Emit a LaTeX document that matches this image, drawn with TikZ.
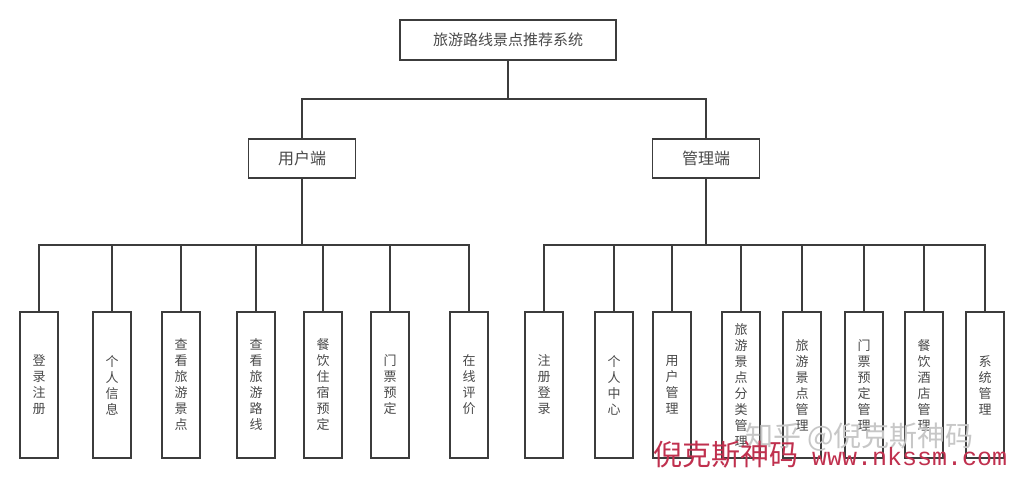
\documentclass[tikz,border=0pt]{standalone}
\usepackage{fontspec}
\newfontfamily\cjk{Noto Sans CJK SC}
\newfontfamily\wmono{Liberation Mono}
\definecolor{ln}{HTML}{3C3C3C}
\definecolor{tx}{HTML}{4A4A4A}
\definecolor{wm}{HTML}{C0304E}
\begin{document}
\begin{tikzpicture}[x=1pt,y=-1pt,
 box/.style={draw=ln,line width=1.4pt,fill=white,inner sep=0pt,text=tx,font=\cjk\fontsize{15}{18}\selectfont},
 midbox/.style={box,minimum width=107pt,minimum height=39pt,font=\cjk\fontsize{16}{18}\selectfont},
 leaf/.style={box,minimum width=38pt,minimum height=146pt,align=center,font=\cjk\fontsize{13}{16}\selectfont},
 wire/.style={draw=ln,line width=1.4pt}]
\useasboundingbox[fill=white] (0,0) rectangle (1024,479);
\node[box,minimum width=216pt,minimum height=40pt] (top) at (508,40) {旅游路线景点推荐系统};
\node[midbox] (user) at (302,158.5) {用户端};
\node[midbox] (admin) at (706,158.5) {管理端};
\coordinate (j1) at (508,99);
\draw[wire] (top.south) -- (j1) -| (user.north);
\draw[wire] (j1) -| (admin.north);
% user leaves
\node[leaf] (u1) at (39,385) {登\\录\\注\\册};
\node[leaf] (u2) at (112,385) {个\\人\\信\\息};
\node[leaf] (u3) at (181,385) {查\\看\\旅\\游\\景\\点};
\node[leaf] (u4) at (256,385) {查\\看\\旅\\游\\路\\线};
\node[leaf] (u5) at (323,385) {餐\\饮\\住\\宿\\预\\定};
\node[leaf] (u6) at (390,385) {门\\票\\预\\定};
\node[leaf] (u7) at (469,385) {在\\线\\评\\价};
% admin leaves
\node[leaf] (a1) at (544,385) {注\\册\\登\\录};
\node[leaf] (a2) at (614,385) {个\\人\\中\\心};
\node[leaf] (a3) at (672,385) {用\\户\\管\\理};
\node[leaf] (a4) at (741,385) {旅\\游\\景\\点\\分\\类\\管\\理};
\node[leaf] (a5) at (802,385) {旅\\游\\景\\点\\管\\理};
\node[leaf] (a6) at (864,385) {门\\票\\预\\定\\管\\理};
\node[leaf] (a7) at (924,385) {餐\\饮\\酒\\店\\管\\理};
\node[leaf] (a8) at (985,385) {系\\统\\管\\理};
\coordinate (ub) at (302,245);
\coordinate (ab) at (706,245);
\draw[wire] (user.south) -- (ub);
\draw[wire] (admin.south) -- (ab);
\foreach \n in {u1,u2,u3,u4,u5,u6,u7} \draw[wire] (ub) -| (\n.north);
\foreach \n in {a1,a2,a3,a4,a5,a6,a7,a8} \draw[wire] (ab) -| (\n.north);
% watermarks
\node[anchor=base west,inner sep=0pt,text=black!22] (wm1) at (745,446) {\cjk\fontsize{28}{30}\selectfont 知乎 @倪克斯神码};
\node[anchor=base west,inner sep=0pt,text=wm] (wm2) at (653,465) {\cjk\fontsize{29}{30}\selectfont 倪克斯神码\hspace{14pt}\wmono\fontsize{25}{30}\selectfont www.nkssm.com};
\end{tikzpicture}
\end{document}
